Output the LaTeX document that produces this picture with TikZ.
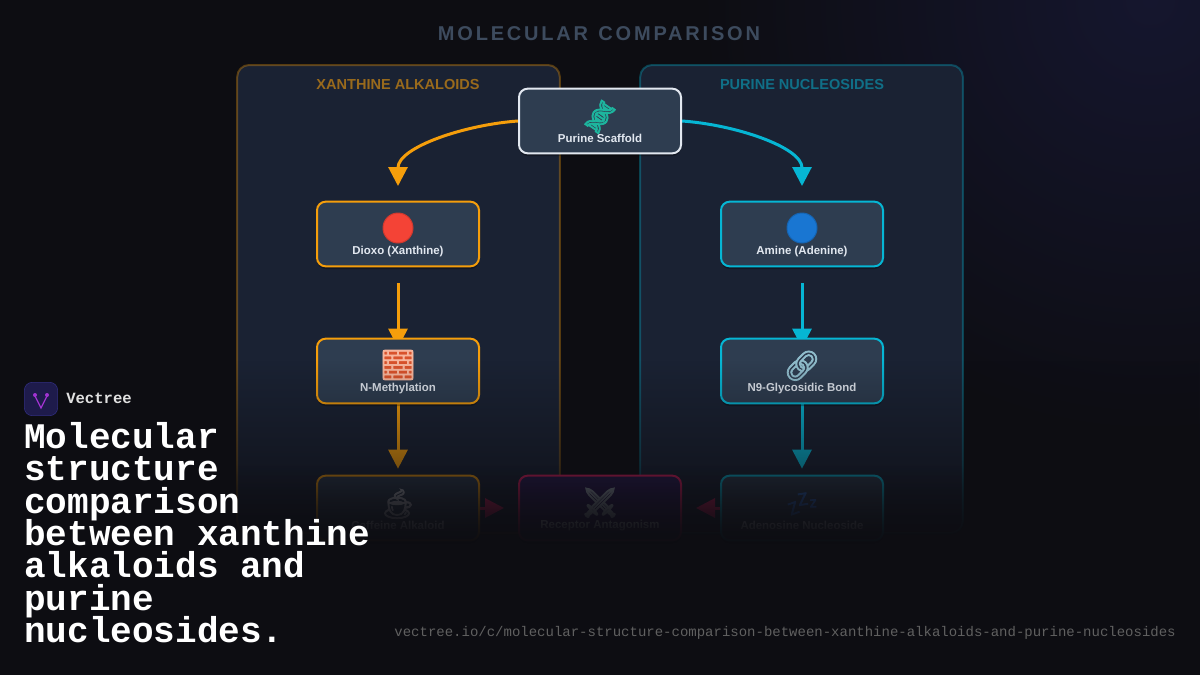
\documentclass[tikz,border=0pt]{standalone}
\usepackage{fontspec}
\setmainfont{Liberation Sans}
\setmonofont{Liberation Mono}
\newfontfamily\emojifont[FakeBold=2.5]{Noto Emoji}
\usetikzlibrary{positioning,arrows.meta,fadings,backgrounds,shadows}
\definecolor{PageDark}{HTML}{0D0D12}
\definecolor{PageBlue}{HTML}{15162E}
\definecolor{PanelFill}{HTML}{1A2233}
\definecolor{NodeFill}{HTML}{2E3D50}
\definecolor{AccentOrange}{HTML}{F59E0B}
\definecolor{AccentCyan}{HTML}{06B6D4}
\definecolor{AccentPink}{HTML}{E91E63}
\definecolor{ScaffoldLine}{HTML}{E2E8F0}
\definecolor{LabelText}{HTML}{E2E8F0}
\definecolor{TitleText}{HTML}{3D4B5E}
\definecolor{LogoBack}{HTML}{1E1B4B}
\definecolor{LogoEdge}{HTML}{312E81}
\definecolor{LogoMark}{HTML}{A033D0}
\definecolor{BallRed}{HTML}{F44336}
\definecolor{BallBlue}{HTML}{1976D2}
\definecolor{BrickRed}{HTML}{D9522B}
\definecolor{BrickLine}{HTML}{F7B59C}
\definecolor{HelixTeal}{HTML}{1DB59E}
\definecolor{ChainBlue}{HTML}{8FBCCB}
\definecolor{SwordGrey}{HTML}{A8B4C0}
\definecolor{SleepBlue}{HTML}{2F6FD0}
\definecolor{CupGrey}{HTML}{B8BCC4}
\definecolor{ReceptorFill}{HTML}{2C1A55}
\tikzfading[name=fadedown,top color=transparent!100,bottom color=transparent!0]
\newcommand{\emo}[2]{\raisebox{-4pt}[17pt][0pt]{\emojifont\fontsize{22}{22}\selectfont\color{#1}#2}}
\tikzset{
  flow/.style={-{Triangle[length=14.25pt,width=14.25pt]},line width=2.25pt},
  panel/.style={rounded corners=9pt,fill=PanelFill,line width=1.5pt,
    minimum width=242pt,minimum height=351pt},
  paneltitle/.style={font=\fontsize{10.9}{13}\selectfont\bfseries},
  box/.style={rounded corners=6.5pt,fill=NodeFill,line width=1.5pt,
    minimum width=121.5pt,minimum height=48.5pt,inner sep=0pt,align=center,
    text=LabelText,font=\fontsize{8.6}{10}\selectfont\bfseries,
    drop shadow={shadow xshift=0pt,shadow yshift=-2pt,opacity=.3,fill=black}},
  orangebox/.style={box,draw=AccentOrange},
  cyanbox/.style={box,draw=AccentCyan},
  ball/.style={circle,minimum size=22.5pt,inner sep=0pt,line width=.75pt},
  headline/.style={/utils/exec={\lineskiplimit=-20pt},anchor=north west,inner sep=0pt,align=left,text=white,
    font=\fontsize{27}{24.3}\selectfont\ttfamily\bfseries}
}
\begin{document}
\begin{tikzpicture}[x=0.75pt,y=-0.75pt]
  \useasboundingbox (0,0) rectangle (1200,675);
  \begin{scope}[on background layer]
    \fill[PageDark] (0,0) rectangle (1200,675);
    \begin{scope}
      \clip (0,0) rectangle (1200,675);
      \shade[inner color=PageBlue,outer color=PageDark] (1150,0) circle (450);
    \end{scope}
    \node[panel,draw=AccentOrange,draw opacity=.32] (xanthine) at (398.5,299) {};
    \node[panel,draw=AccentCyan,draw opacity=.32] (nucleoside) at (801.5,299) {};
  \end{scope}
  \node[paneltitle,text=AccentOrange!58!PanelFill] at (398,84) (xanthinetitle) {XANTHINE ALKALOIDS};
  \node[paneltitle,text=AccentCyan!52!PanelFill] at (802,84) (nucleosidetitle) {PURINE NUCLEOSIDES};

  \node[box,draw=ScaffoldLine] (scaffold) at (600,121) {\emo{HelixTeal}{\rotatebox[origin=c]{-35}{🧬}}\\[6pt]Purine Scaffold};
  \node[orangebox] (dioxo) at (398,234) {\emo{white}{}\\[6pt]Dioxo (Xanthine)};
  \node[orangebox,below=52.75pt of dioxo] (methyl) {\emo{white}{}\\[6pt]N-Methylation};
  \node[orangebox,below=52.75pt of methyl] (caffeine) {\emo{CupGrey}{☕}\\[6pt]Caffeine Alkaloid};
  \node[cyanbox] (amine) at (802,234) {\emo{white}{}\\[6pt]Amine (Adenine)};
  \node[cyanbox,below=52.75pt of amine] (glyco) {\emo{ChainBlue}{🔗}\\[6pt]N9-Glycosidic Bond};
  \node[cyanbox,below=52.75pt of glyco] (adenosine) {\emo{SleepBlue}{💤}\\[6pt]Adenosine Nucleoside};
  \node[box,draw=AccentPink,fill=ReceptorFill] (receptor) at (600,508) {\emo{SwordGrey}{⚔}\\[6pt]Receptor Antagonism};

  \node[ball,fill=BallRed,draw=BallRed!85!black] (dioxoball) at ([yshift=4.5pt]dioxo.center) {};
  \node[ball,fill=BallBlue,draw=BallBlue!85!black] (amineball) at ([yshift=4.5pt]amine.center) {};
  \node[fill=BrickRed,minimum size=23pt,inner sep=0pt] (brickback) at ([yshift=4.5pt]methyl.center) {};
  \node[inner sep=0pt] (brick) at (brickback) {\emojifont\fontsize{22}{22}\selectfont\color{BrickLine}🧱};

  \begin{scope}[on background layer]
    \draw[flow,AccentOrange,shorten >=11pt] (scaffold.west) to[out=184,in=90,looseness=.95] (dioxo.north);
    \draw[flow,AccentCyan,shorten >=11pt] (scaffold.east) to[out=-4,in=90,looseness=.95] (amine.north);
    \draw[flow,AccentOrange,shorten <=12pt,shorten >=-7.5pt] (dioxo) -- (methyl);
    \draw[flow,AccentOrange,shorten >=4.5pt] (methyl) -- (caffeine);
    \draw[flow,AccentCyan,shorten <=12pt,shorten >=-7.5pt] (amine) -- (glyco);
    \draw[flow,AccentCyan,shorten >=4.5pt] (glyco) -- (adenosine);
    \draw[flow,AccentPink,shorten >=10.5pt] (caffeine) -- (receptor);
    \draw[flow,AccentPink,shorten >=10.5pt] (adenosine) -- (receptor);
  \end{scope}

  \fill[PageDark,path fading=fadedown] (0,360) rectangle (1200,560);
  \fill[PageDark,path fading=fadedown] (0,465) rectangle (1200,552);
  \fill[PageDark] (0,551) rectangle (1200,675);

  \node[font=\fontsize{15}{18}\selectfont\bfseries\addfontfeature{LetterSpace=14},text=TitleText] (title) at (599,33.5) {MOLECULAR\hspace{1.5pt} COMPARISON};

  \node[draw=LogoEdge,fill=LogoBack,rounded corners=6pt,minimum size=25pt,inner sep=0pt] (logo) at (41,399) {};
  \draw[LogoMark,line width=1pt] ([shift={(-6,-3)}]logo.center) -- ([shift={(0,9)}]logo.center) -- ([shift={(6,-3)}]logo.center);
  \fill[LogoMark] ([shift={(-6,-4)}]logo.center) circle (2) ([shift={(6,-4)}]logo.center) circle (2);
  \node[anchor=west,inner sep=0pt,text=white!88!black,font=\fontsize{11.7}{14}\selectfont\ttfamily\bfseries] (brand) at (66,398.5) {Vectree};
  \node[headline] (headline) at (24,422) {Molecular\\structure\\comparison\\between xanthine\\alkaloids and\\purine\\nucleosides.};
  \node[anchor=east,inner sep=0pt,text=gray!75!black,font=\fontsize{10.5}{13}\selectfont\ttfamily] (link) at (1176,633) {vectree.io/c/molecular-structure-comparison-between-xanthine-alkaloids-and-purine-nucleosides};
\end{tikzpicture}
\end{document}
